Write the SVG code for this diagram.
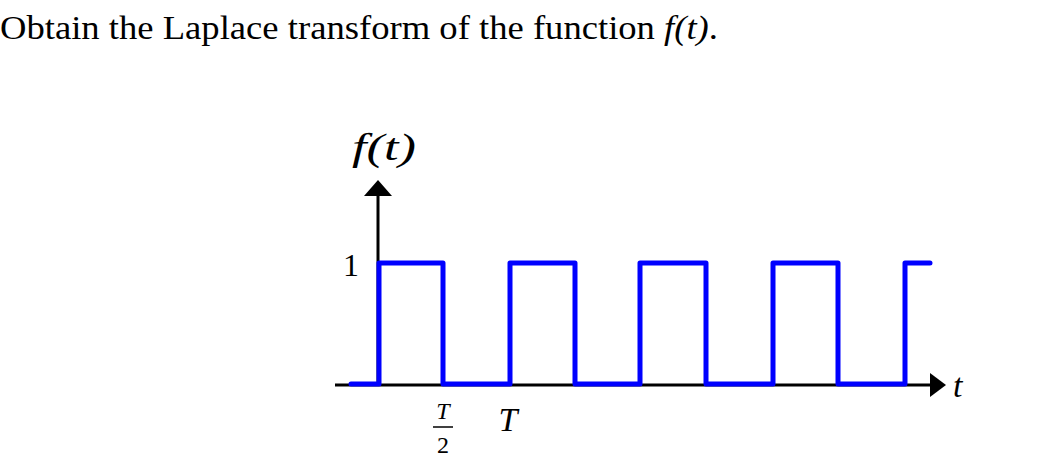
<svg xmlns="http://www.w3.org/2000/svg" width="1049" height="463" viewBox="0 0 1049 463">
<style>
text{font-family:"Liberation Serif",serif;fill:#000}
.i{font-style:italic}
</style>
<rect width="1049" height="463" fill="#fff"/>
<text x="0" y="39" font-size="34" textLength="718" lengthAdjust="spacingAndGlyphs">Obtain the Laplace transform of the function <tspan class="i">f(t)</tspan>.</text>
<g id="axes" stroke="#000" stroke-width="3">
<line x1="378" y1="385" x2="378" y2="192"/>
<polygon points="364,196 378,180 392,196" fill="#000" stroke="none"/>
<line x1="335" y1="385" x2="932" y2="385"/>
<polygon points="930,373 946,385 930,397" fill="#000" stroke="none"/>
</g>
<g id="signal">
<polyline fill="none" stroke="#0000ff" stroke-width="5" stroke-linejoin="round" stroke-linecap="round" points="351,384 379,384 379,263 443,263 443,384 510,384 510,263 575,263 575,384 640,384 640,263 706,263 706,384 773,384 773,263 838,263 838,384 905,384 905,263 930,263"/>
</g>
<g id="labels">
<text class="i" x="352" y="160" font-size="38" textLength="64" lengthAdjust="spacingAndGlyphs">f(t)</text>
<text x="343" y="276" font-size="32">1</text>
<text class="i" x="443" y="419" font-size="24" text-anchor="middle">T</text>
<line x1="433" y1="427" x2="453" y2="427" stroke="#000" stroke-width="1.5"/>
<text x="443" y="453" font-size="24" text-anchor="middle">2</text>
<text class="i" x="508" y="431" font-size="34" text-anchor="middle">T</text>
<text class="i" x="953" y="397" font-size="34">t</text>
</g>
</svg>
